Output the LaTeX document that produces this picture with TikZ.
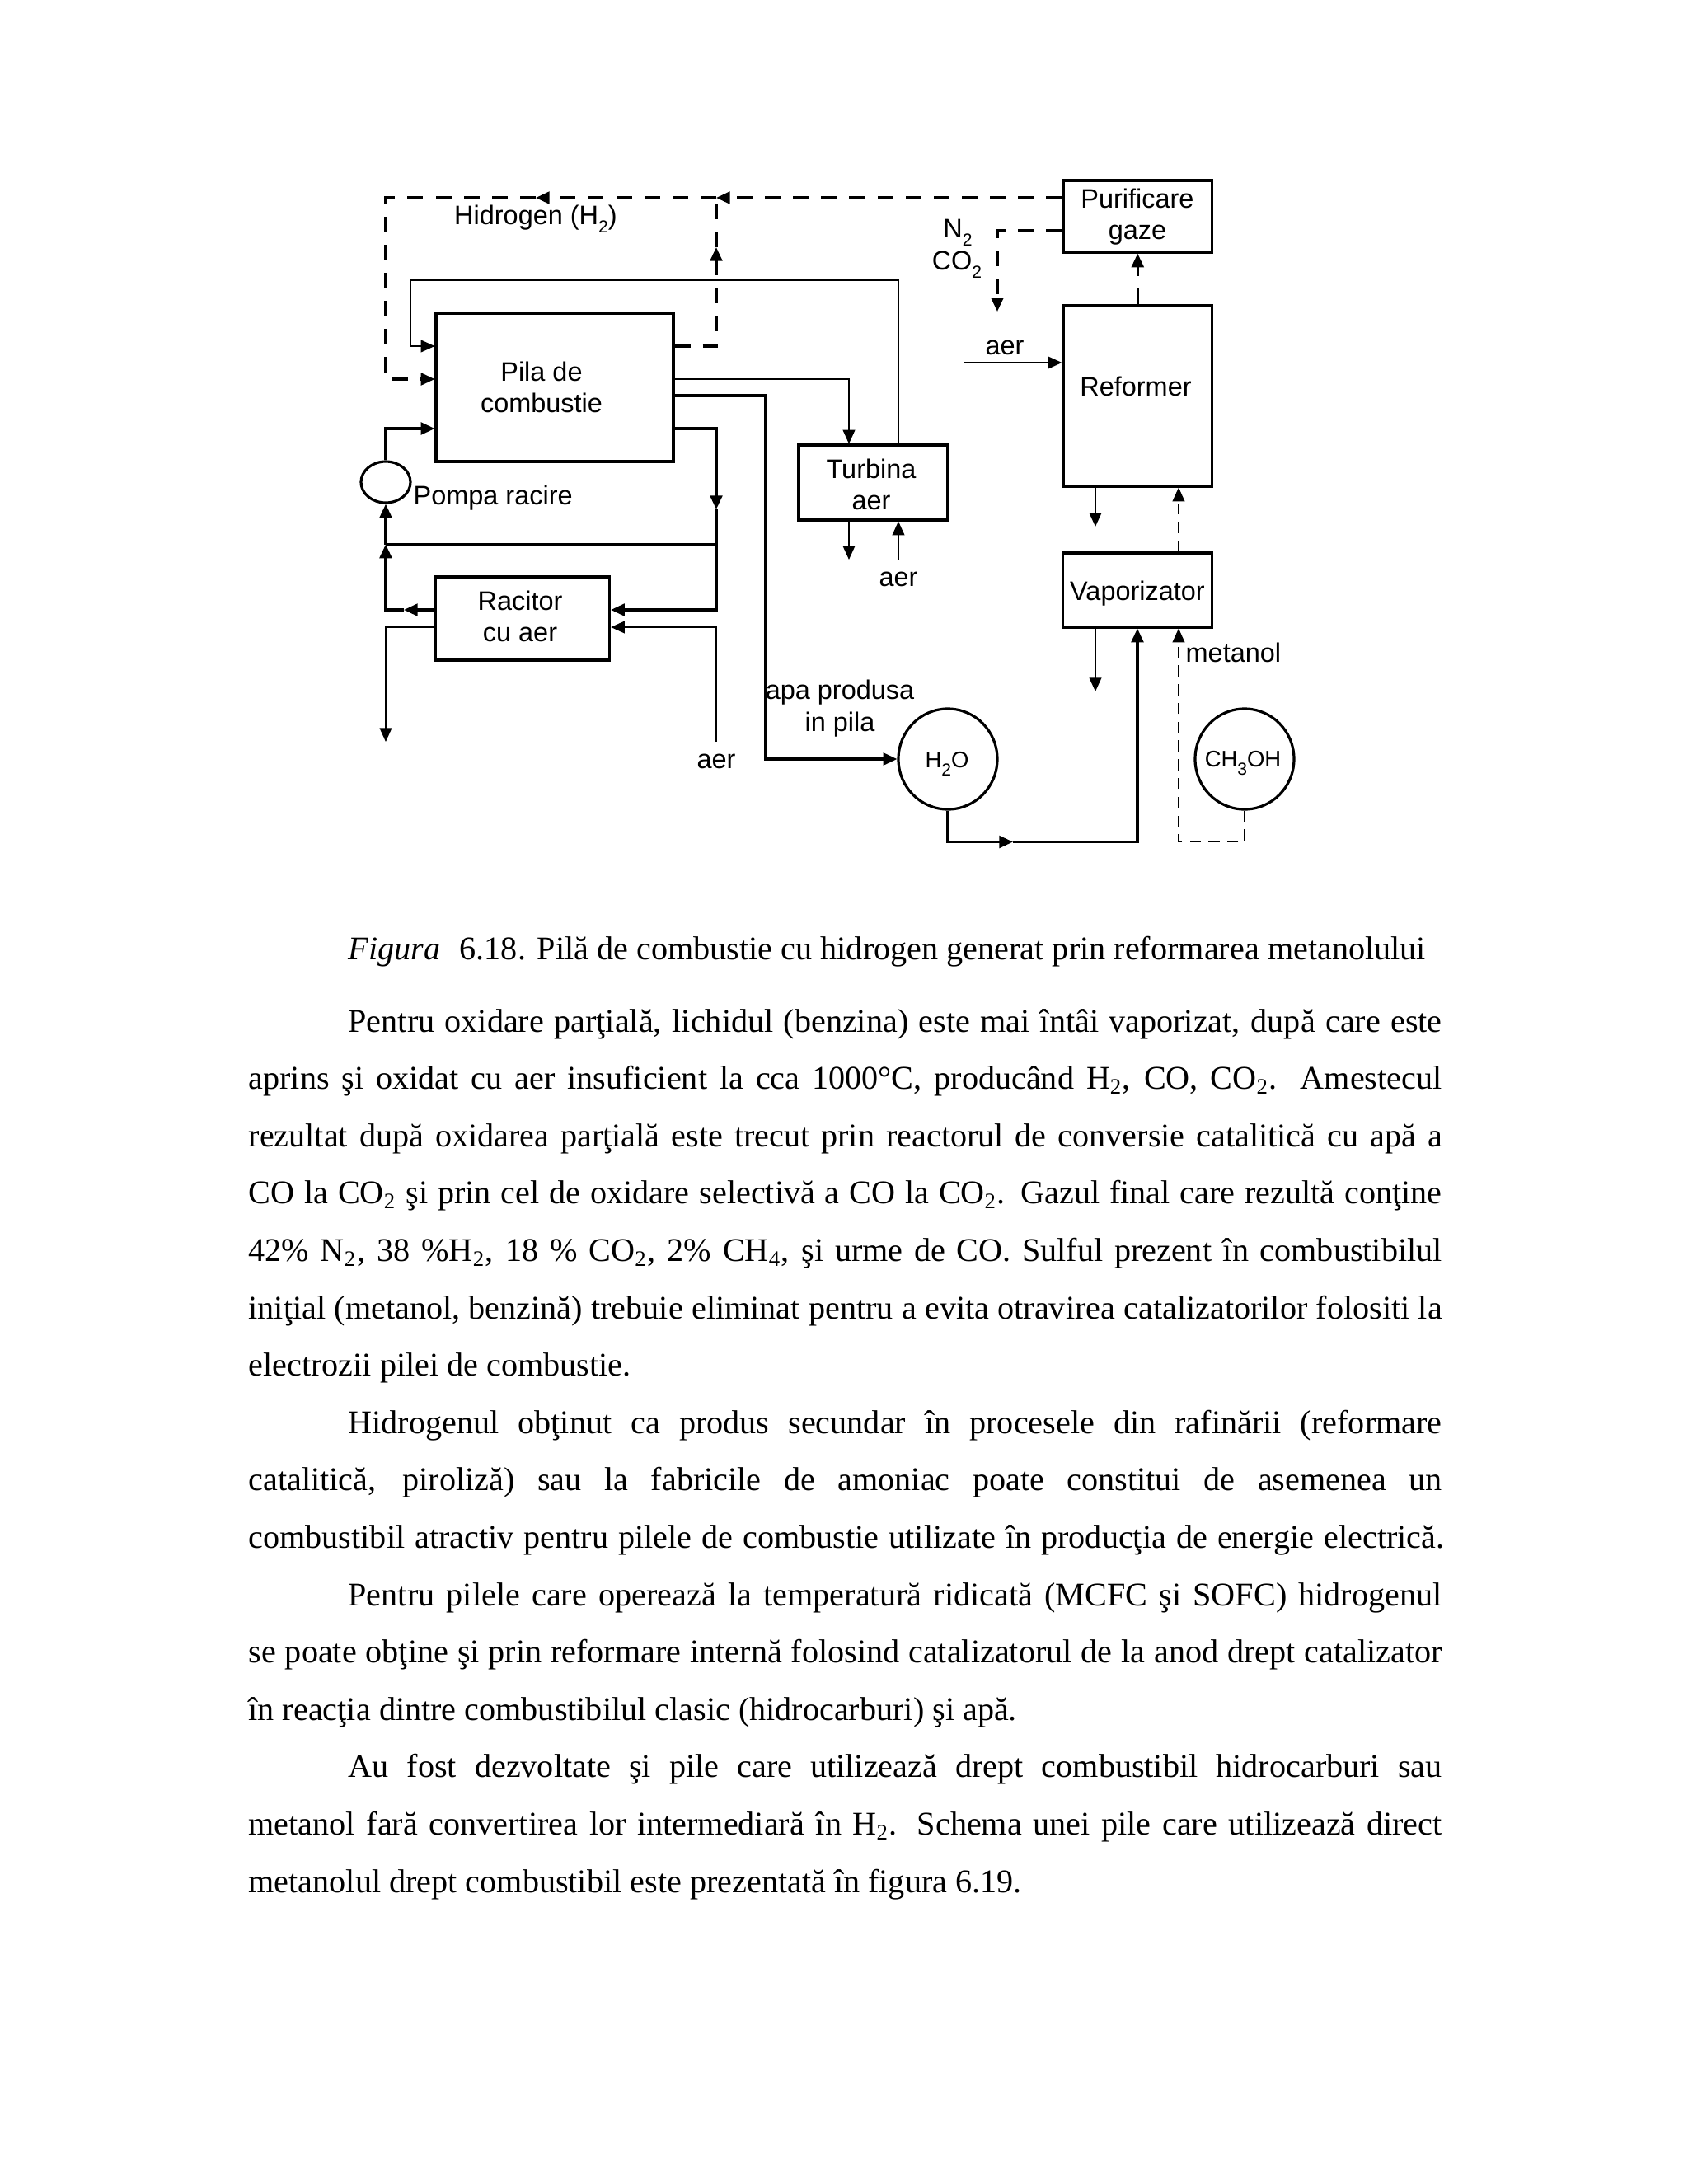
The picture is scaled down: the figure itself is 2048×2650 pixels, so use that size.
\documentclass[tikz,border=0pt]{standalone}
\usepackage{fontspec}
\setmainfont{Liberation Serif}
\newfontfamily\diagfont{Liberation Sans}
\usetikzlibrary{arrows.meta,shapes.geometric}
\newcommand\dsub[1]{\raisebox{-3pt}{\fontsize{6.3}{7}\selectfont #1}}
\begin{document}
\begin{tikzpicture}[x=0.298828pt,y=-0.298828pt,
  >={Triangle[length=5pt,width=4.4pt]},
  boxnode/.style={draw,line width=0.95pt,inner sep=0pt,rectangle},
  ellnode/.style={draw,line width=0.95pt,inner sep=0pt,ellipse},
  lbl/.style={inner sep=0pt,anchor=base,font=\diagfont\fontsize{9.7}{11.6}\selectfont},
  lblsmall/.style={inner sep=0pt,anchor=base,font=\diagfont\fontsize{8.2}{10}\selectfont},
  bodyln/.style={inner sep=0pt,anchor=base west,font=\fontsize{12}{14}\selectfont},
  thickln/.style={line width=0.95pt},
  thinln/.style={line width=0.5pt},
  thickdash/.style={line width=0.95pt,dash pattern=on 5.7pt off 4.5pt},
  thindash/.style={line width=0.5pt,dash pattern=on 4pt off 2.8pt}]
\fill[white] (0,0) rectangle (2048,2650);
\useasboundingbox (0,0) rectangle (2048,2650);

% ---------- boxes and vessels ----------
\node[boxnode,minimum width=86.06pt,minimum height=53.79pt] (pila) at (673,470) {};
\node[boxnode,minimum width=63.23pt,minimum height=30.18pt] (rac) at (633.8,750.5) {};
\node[boxnode,minimum width=54.09pt,minimum height=27.19pt] (turb) at (1059.5,585.5) {};
\node[boxnode,minimum width=53.97pt,minimum height=26pt] (purif) at (1380.3,262.5) {};
\node[boxnode,minimum width=53.97pt,minimum height=65.44pt] (ref) at (1380.3,480.5) {};
\node[boxnode,minimum width=54.27pt,minimum height=26.9pt] (vap) at (1380,716) {};
\node[ellnode,minimum width=17.93pt,minimum height=14.94pt] (pump) at (468,585) {};
\node[ellnode,minimum width=35.86pt,minimum height=36.46pt] (h2o) at (1150,921) {};
\node[ellnode,minimum width=35.86pt,minimum height=36.46pt] (ch) at (1510,921) {};

% ---------- labels ----------
\node[lbl] (hydro) at (650,272) {Hidrogen (H\dsub{2})};
\node[lbl] (pilaA) at (657,462) {Pila de};
\node[lbl] (pilaB) at (657,500) {combustie};
\node[lbl,anchor=base west] (pompa) at (501,612) {Pompa racire};
\node[lbl] (racA) at (631,740) {Racitor};
\node[lbl] (racB) at (631,778) {cu aer};
\node[lbl] (aerR) at (869,932) {aer};
\node[lbl] (turbA) at (1057,580) {Turbina};
\node[lbl] (turbB) at (1057,618) {aer};
\node[lbl] (aerT) at (1090,711) {aer};
\node[lbl] (apaA) at (1019,848) {apa produsa};
\node[lbl] (apaB) at (1019,887.5) {in pila};
\node[lblsmall] (h2ot) at (1149,931) {H\dsub{2}O};
\node[lblsmall] (cht) at (1508,930) {CH\dsub{3}OH};
\node[lbl] (n2) at (1162,288) {N\dsub{2}};
\node[lbl] (co2) at (1161,327) {CO\dsub{2}};
\node[lbl] (aerF) at (1219,430) {aer};
\node[lbl] (purA) at (1380,252) {Purificare};
\node[lbl] (purB) at (1380,290) {gaze};
\node[lbl] (refT) at (1378,480) {Reformer};
\node[lbl] (vapT) at (1380,728.6) {Vaporizator};
\node[lbl,anchor=base west] (metT) at (1438,803) {metanol};

% ---------- helper coordinates ----------
\coordinate (xL) at (468,0);
\coordinate (xLoop) at (498.6,0);
\coordinate (xJ) at (869,0);
\coordinate (xApa) at (929,0);
\coordinate (xT1) at (1030,0);
\coordinate (xT2) at (1090,0);
\coordinate (xN) at (1210,0);
\coordinate (xR1) at (1329,0);
\coordinate (xV) at (1380,0);
\coordinate (xM) at (1430,0);
\coordinate (yT) at (0,240);
\coordinate (yP2) at (0,280);
\coordinate (yLoop) at (0,340);
\coordinate (yA) at (0,420);
\coordinate (yB) at (0,460);
\coordinate (yC) at (0,480);
\coordinate (yD) at (0,520);
\coordinate (yMid) at (0,660.5);
\coordinate (yR1) at (0,740);
\coordinate (yR2) at (0,761);
\coordinate (yAerR) at (0,440);
\coordinate (yBot) at (0,1021.5);
\coordinate (hArr) at (650,240);
\coordinate (vArr) at (869,300);
\coordinate (dArr) at (869,618);
\coordinate (lArr) at (490,740);
\coordinate (bArr) at (1229,1021.5);
\coordinate (outL) at (468,900);
\coordinate (aerInR) at (869,900);
\coordinate (turbOut) at (1030,679);
\coordinate (turbIn) at (1090,680);
\coordinate (n2End) at (1210,378);
\coordinate (aerInF) at (1170,440);
\coordinate (refOut) at (1329,639);
\coordinate (vapOut) at (1329,839);

% ---------- hydrogen (dashed) ----------
\draw[thickdash,->] (purif.west |- yT) -- (xJ |- yT);
\draw[thickdash,->] (xJ |- yT) -- (hArr);
\draw[thickdash,->] (hArr) -- (xL |- yT) -- (xL |- yB) -- (pila.west |- yB);
\draw[thickdash,->] (pila.east |- yA) -- (xJ |- yA) -- (vArr);
\draw[thickdash] (vArr) -- (xJ |- yT);
\draw[thickdash,->] (purif.west |- yP2) -- (xN |- yP2) -- (n2End);
\draw[thickdash,->] (ref.north) -- (purif.south);

% ---------- air loop (thin) ----------
\draw[thinln,->] (turb.north -| xT2) -- (xT2 |- yLoop) -- (xLoop |- yLoop) -- (xLoop |- yA) -- (pila.west |- yA);
\draw[thinln,->] (pila.east |- yB) -- (xT1 |- yB) -- (turb.north -| xT1);
\draw[thinln,->] (turb.south -| xT1) -- (turbOut);
\draw[thinln,->] (turbIn) -- (turb.south -| xT2);

% ---------- product water ----------
\draw[thickln,->] (pila.east |- yC) -- (xApa |- yC) -- (xApa |- h2o.west) -- (h2o.west);
\draw[thickln,->] (h2o.south) -- (h2o.south |- yBot) -- (bArr);
\draw[thickln,->] (bArr) -- (xV |- yBot) -- (vap.south -| xV);

% ---------- cooling circuit ----------
\draw[thickln,->] (pila.east |- yD) -- (xJ |- yD) -- (dArr);
\draw[thickln,->] (dArr) -- (xJ |- yR1) -- (rac.east |- yR1);
\draw[thickln] (xJ |- yMid) -- (xL |- yMid);
\draw[thickln,->] (pump.north) -- (xL |- yD) -- (pila.west |- yD);
\draw[thickln,->] (rac.west |- yR1) -- (lArr);
\draw[thickln,->] (lArr) -- (xL |- yR1) -- (xL |- yMid);
\draw[thickln,->] (xL |- yMid) -- (pump.south);
\draw[thinln,->] (rac.west |- yR2) -- (xL |- yR2) -- (outL);
\draw[thinln,->] (aerInR) -- (xJ |- yR2) -- (rac.east |- yR2);

% ---------- reformer side ----------
\draw[thinln,->] (aerInF) -- (ref.west |- yAerR);
\draw[thinln,->] (ref.south -| xR1) -- (refOut);
\draw[thindash,->] (vap.north -| xM) -- (ref.south -| xM);
\draw[thinln,->] (vap.south -| xR1) -- (vapOut);
\draw[thindash,->] (ch.south) -- (ch.south |- yBot) -- (xM |- yBot) -- (vap.south -| xM);

% ---------- caption and body text ----------
\node[bodyln] (cap) at (422,1164) {\makebox[390.6pt][s]{\textit{Figura}\hspace{4pt} 6.18. Pilă de combustie cu hidrogen generat prin reformarea metanolului}};

\node[bodyln] (l1) at (422,1252) {\makebox[396.5pt][s]{Pentru oxidare parţială, lichidul (benzina) este mai întâi vaporizat, după care este}};
\node[bodyln] (l2) at (301,1321.6) {\makebox[432.7pt][s]{aprins şi oxidat cu aer insuficient la cca 1000°C, producând H\textsubscript{2}, CO, CO\textsubscript{2}. Amestecul}};
\node[bodyln] (l3) at (301,1391.2) {\makebox[432.7pt][s]{rezultat după oxidarea parţială este trecut prin reactorul de conversie catalitică cu apă a}};
\node[bodyln] (l4) at (301,1460.8) {\makebox[432.7pt][s]{CO la CO\textsubscript{2} şi prin cel de oxidare selectivă a CO la CO\textsubscript{2}. Gazul final care rezultă conţine}};
\node[bodyln] (l5) at (301,1530.4) {\makebox[432.7pt][s]{42\% N\textsubscript{2}, 38 \%H\textsubscript{2}, 18 \% CO\textsubscript{2}, 2\% CH\textsubscript{4}, şi urme de CO. Sulful prezent în combustibilul}};
\node[bodyln] (l6) at (301,1600) {\makebox[432.7pt][s]{iniţial (metanol, benzină) trebuie eliminat pentru a evita otravirea catalizatorilor folositi la}};
\node[bodyln] (l7) at (301,1669.6) {electrozii pilei de combustie.};

\node[bodyln] (l8) at (422,1739.2) {\makebox[396.5pt][s]{Hidrogenul obţinut ca produs secundar în procesele din rafinării (reformare}};
\node[bodyln] (l9) at (301,1808.8) {\makebox[432.7pt][s]{catalitică, piroliză) sau la fabricile de amoniac poate constitui de asemenea un}};
\node[bodyln] (l10) at (301,1878.4) {\makebox[433.5pt][s]{combustibil atractiv pentru pilele de combustie utilizate în producţia de energie electrică.}};

\node[bodyln] (l11) at (422,1948) {\makebox[396.5pt][s]{Pentru pilele care operează la temperatură ridicată (MCFC şi SOFC) hidrogenul}};
\node[bodyln] (l12) at (301,2017.6) {\makebox[432.7pt][s]{se poate obţine şi prin reformare internă folosind catalizatorul de la anod drept catalizator}};
\node[bodyln] (l13) at (301,2087.2) {în reacţia dintre combustibilul clasic (hidrocarburi) şi apă.};

\node[bodyln] (l14) at (422,2156.8) {\makebox[396.5pt][s]{Au fost dezvoltate şi pile care utilizează drept combustibil hidrocarburi sau}};
\node[bodyln] (l15) at (301,2226.4) {\makebox[432.7pt][s]{metanol fară convertirea lor intermediară în H\textsubscript{2}. Schema unei pile care utilizează direct}};
\node[bodyln] (l16) at (301,2296) {metanolul drept combustibil este prezentată în figura 6.19.};
\end{tikzpicture}
\end{document}
